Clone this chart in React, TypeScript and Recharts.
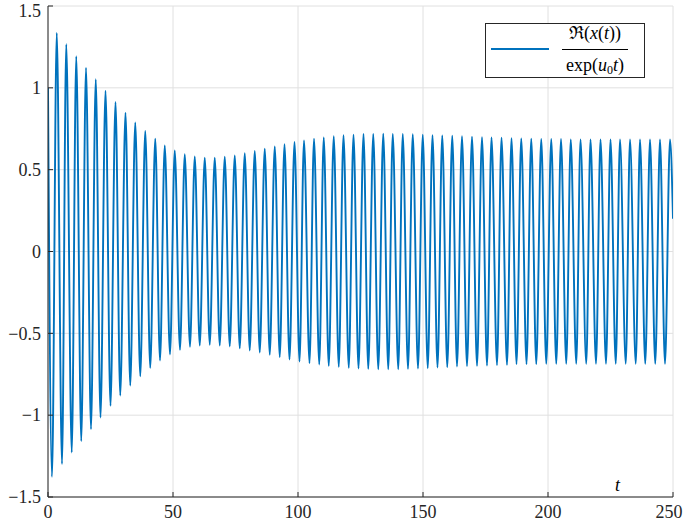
import { LineChart, Line, XAxis, YAxis, CartesianGrid, Legend } from "recharts";

// times (t) and values of the local minima / maxima
const startPoint = { t: 0, v: 1.0 };
const endPoint = { t: 250, v: 0.2 };

const troughT = [
  1.6, 5.6, 9.5, 13.3, 17.2, 21.0, 25.0, 28.9, 32.9, 36.9, 40.9, 44.8, 48.8, 52.8, 56.8,
  60.7, 64.7, 68.7, 72.7, 76.7, 80.7, 84.7, 88.7, 92.7, 96.6, 100.6, 104.6, 108.5, 112.3, 116.3, 120.3,
  124.2, 128.1, 132.1, 136.1, 140.1, 144.0, 148.0, 151.9, 155.8, 159.7, 163.6, 167.6, 171.6, 175.6, 179.6, 183.6,
  187.4, 191.4, 195.3, 199.3, 203.3, 207.3, 211.3, 215.3, 219.2, 223.2, 227.1, 231.1, 235.1, 238.9, 242.9, 246.8,
];
const troughV = [
  -1.377, -1.298, -1.228, -1.159, -1.086, -1.014, -0.943, -0.88, -0.819, -0.762, -0.711, -0.666, -0.629, -0.601, -0.582,
  -0.574, -0.57, -0.574, -0.58, -0.592, -0.605, -0.617, -0.631, -0.645, -0.66, -0.672, -0.682, -0.69, -0.699, -0.705, -0.711,
  -0.715, -0.717, -0.719, -0.719, -0.719, -0.717, -0.715, -0.713, -0.709, -0.707, -0.703, -0.7, -0.699, -0.697, -0.694, -0.693,
  -0.688, -0.688, -0.688, -0.686, -0.686, -0.686, -0.686, -0.686, -0.686, -0.686, -0.686, -0.686, -0.686, -0.686, -0.686, -0.686,
];

const peakT = [
  3.5, 7.3, 11.3, 15.2, 19.1, 23.0, 27.0, 31.0, 34.9, 38.9, 42.9, 46.7, 50.7, 54.7, 58.7,
  62.7, 66.7, 70.7, 74.7, 78.7, 82.7, 86.7, 90.7, 94.6, 98.6, 102.4, 106.4, 110.3, 114.3, 118.2, 122.2,
  126.2, 130.1, 134.1, 137.9, 141.9, 145.9, 149.9, 153.8, 157.7, 161.7, 165.6, 169.6, 173.6, 177.4, 181.4, 185.4,
  189.3, 193.3, 197.3, 201.3, 205.2, 209.1, 213.0, 217.0, 221.0, 225.0, 228.8, 232.8, 236.8, 240.8, 244.8, 248.8,
];
const peakV = [
  1.335, 1.266, 1.194, 1.123, 1.052, 0.982, 0.913, 0.848, 0.789, 0.736, 0.689, 0.648, 0.618, 0.594, 0.581,
  0.573, 0.573, 0.579, 0.587, 0.601, 0.614, 0.628, 0.642, 0.656, 0.669, 0.679, 0.689, 0.697, 0.704, 0.71, 0.713,
  0.718, 0.718, 0.72, 0.718, 0.718, 0.716, 0.713, 0.711, 0.709, 0.707, 0.704, 0.702, 0.699, 0.697, 0.695, 0.693,
  0.691, 0.689, 0.687, 0.687, 0.687, 0.685, 0.685, 0.685, 0.685, 0.685, 0.685, 0.685, 0.685, 0.685, 0.685, 0.685,
];

const xTicks = [0, 50, 100, 150, 200, 250];
const yTicks = [-1.5, -1, -0.5, 0, 0.5, 1, 1.5];

const FONT = "'Liberation Serif', 'Times New Roman', serif";
const INK = "#262626";
const BLUE = "#0072BD";

const data: { t: number; v: number }[] = [startPoint];
troughT.forEach((t, i) => {
  data.push({ t, v: troughV[i] });
  data.push({ t: peakT[i], v: peakV[i] });
});
data.push(endPoint);

const fmt = (v: number) => (v < 0 ? "\u2212" + Math.abs(v) : String(v));

const XTick = ({ x, y, payload }: any) => (
  <text x={Math.min(x, 669)} y={y} dy="0.71em" textAnchor="middle" fill={INK} fontSize={18} fontFamily={FONT}>
    {fmt(payload.value)}
  </text>
);

const YTick = ({ x, y, payload }: any) => (
  <text x={x} y={Math.max(y, 11)} dy="0.35em" textAnchor="end" fill={INK} fontSize={18} fontFamily={FONT}>
    {fmt(payload.value)}
  </text>
);

const TLabel = ({ viewBox }: any) => (
  <text x={viewBox.x + viewBox.width - 58} y={viewBox.y - 6} fontStyle="italic" fill="#000" fontSize={18} fontFamily={FONT}>
    t
  </text>
);

const LegendBox = () => (
  <div
    style={{
      position: "relative",
      width: 158,
      height: 53,
      border: "1px solid " + INK,
      background: "#fff",
      fontFamily: FONT,
      fontSize: 18,
      color: "#000",
    }}
  >
    <div style={{ position: "absolute", left: 5, top: 24, width: 58, borderTop: "2px solid " + BLUE }} />
    <div style={{ position: "absolute", left: 76, top: -2, width: 66, lineHeight: "22px", textAlign: "center", whiteSpace: "nowrap" }}>
      ℜ(<i>x</i>(<i>t</i>))
    </div>
    <div style={{ position: "absolute", left: 76, top: 25, width: 66, borderTop: "1px solid #000" }} />
    <div style={{ position: "absolute", left: 74, top: 30, width: 70, lineHeight: "22px", textAlign: "center", whiteSpace: "nowrap" }}>
      exp(<i>u</i>
      <span style={{ fontSize: 12, position: "relative", top: 3 }}>0</span>
      <i>t</i>)
    </div>
  </div>
);

export default function App() {
  return (
    <div style={{ position: "absolute", left: 0, top: 0, background: "#fff" }}>
      <LineChart width={685} height={525} data={data} margin={{ top: 6, right: 12, left: 0, bottom: 0 }}>
        <CartesianGrid stroke="#e0e0e0" strokeWidth={1} />
        <XAxis
          dataKey="t"
          type="number"
          domain={[0, 250]}
          ticks={xTicks}
          interval={0}
          height={28}
          tickSize={-5}
          tickMargin={13}
          stroke={INK}
          tick={<XTick />}
          label={<TLabel />}
          allowDataOverflow
        />
        <XAxis
          xAxisId="top"
          orientation="top"
          type="number"
          domain={[0, 250]}
          ticks={xTicks}
          interval={0}
          height={0}
          tickSize={-5}
          stroke={INK}
          tick={false}
          allowDataOverflow
        />
        <YAxis
          type="number"
          domain={[-1.5, 1.5]}
          ticks={yTicks}
          interval={0}
          width={48}
          tickSize={-5}
          tickMargin={12}
          stroke={INK}
          tick={<YTick />}
          allowDataOverflow
        />
        <YAxis
          yAxisId="right"
          orientation="right"
          type="number"
          domain={[-1.5, 1.5]}
          ticks={yTicks}
          interval={0}
          width={0}
          tickSize={-5}
          stroke={INK}
          tick={false}
          allowDataOverflow
        />
        <Line
          type="monotone"
          dataKey="v"
          stroke={BLUE}
          strokeWidth={1.9}
          dot={false}
          isAnimationActive={false}
        />
        <Legend
          layout="horizontal"
          verticalAlign="middle"
          align="center"
          wrapperStyle={{ left: 485, top: 23, width: 160, height: 55 }}
          content={() => <LegendBox />}
        />
      </LineChart>
    </div>
  );
}
